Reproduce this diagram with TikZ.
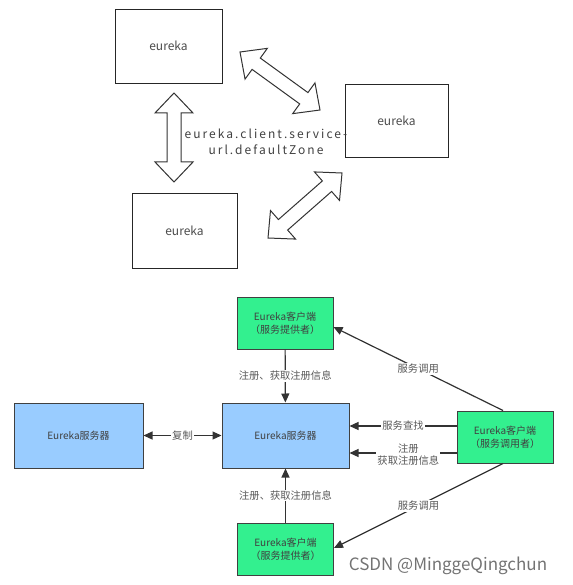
\documentclass[tikz,border=0pt]{standalone}
\usepackage{fontspec}
\setmainfont{Noto Sans CJK SC}
\usetikzlibrary{calc,arrows.meta}

\definecolor{serverblue}{HTML}{99CCFF}
\definecolor{clientgreen}{HTML}{33F08F}

\tikzset{
  eurekabox/.style={draw=black!85, line width=0.9pt, text=black!70,
    font=\fontsize{12}{14}\selectfont},
  serverbox/.style={draw=black!75, fill=serverblue, line width=1pt,
    minimum height=65pt, text=black!75, font=\fontsize{10}{12}\selectfont},
  clientbox/.style={draw=black!75, fill=clientgreen, line width=1pt,
    minimum width=96pt, minimum height=52pt, align=center, text=black!75,
    font=\fontsize{10}{12.5}\selectfont},
  blockline/.style={draw=black!80, line width=1pt, fill=white, line join=miter},
  link/.style={draw=black!80, line width=1.2pt, -{Triangle[length=9pt,width=8pt]}},
  tag/.style={fill=white, text=black!65, inner sep=1pt, align=center,
    font=\fontsize{10.3}{12}\selectfont},
}

% outlined double arrow between two coordinates
\newcommand\blockarrow[2]{%
  \coordinate (h1) at ($(#1)!20pt!(#2)$);
  \coordinate (h2) at ($(#2)!20pt!(#1)$);
  \draw[blockline] (#1) -- ($(h1)!19pt!90:(#2)$) -- ($(h1)!7pt!90:(#2)$)
    -- ($(h2)!7pt!-90:(#1)$) -- ($(h2)!19pt!-90:(#1)$) -- (#2)
    -- ($(h2)!19pt!90:(#1)$) -- ($(h2)!7pt!90:(#1)$)
    -- ($(h1)!7pt!-90:(#2)$) -- ($(h1)!19pt!-90:(#2)$) -- cycle;}

\begin{document}
\begin{tikzpicture}[x=1pt,y=-1pt]
  \useasboundingbox (0,0) rectangle (572,585);

  %%%%% EUREKA CLUSTER %%%%%
  \node[eurekabox, minimum width=107pt, minimum height=74pt] (euA) at (168.5,46) {eureka};
  \node[eurekabox, minimum width=103pt, minimum height=73pt] (euB) at (396.5,120.5) {eureka};
  \node[eurekabox, minimum width=105pt, minimum height=75pt] (euC) at (184.5,230.5) {eureka};

  \coordinate (ac1) at (174,93);  \coordinate (ac2) at (174,182);
  \coordinate (ab1) at (240,52);  \coordinate (ab2) at (320,110);
  \coordinate (cb1) at (268,238); \coordinate (cb2) at (342,173);

  \blockarrow{ac1}{ac2}
  \blockarrow{ab1}{ab2}
  \blockarrow{cb1}{cb2}

  \node[align=center, text=black!75, inner sep=0pt,
    font=\fontsize{12}{16}\selectfont\addfontfeature{LetterSpace=17}] (zone) at (266,142)
    {eureka.client.service-\\url.defaultZone};

  %%%%% SERVERS AND CLIENTS %%%%%
  \node[serverbox, minimum width=129pt] (srvL) at (78.5,435.5) {Eureka服务器};
  \node[serverbox, minimum width=127pt] (srvC) at (285.5,435.5) {Eureka服务器};

  \node[clientbox] (prvT) at (285,323) {Eureka客户端\\（服务提供者）};
  \node[clientbox] (prvB) at (285.5,549) {Eureka客户端\\（服务提供者）};
  \node[clientbox] (cons) at (505,437) {Eureka客户端\\（服务调用者）};

  \draw[link, {Triangle[length=9pt,width=8pt]}-{Triangle[length=9pt,width=8pt]}] (srvL) -- node[tag] {复制} (srvC);

  \draw[link] (prvT) -- node[tag] {注册、获取注册信息} (srvC);
  \draw[link] (prvB) -- node[tag] {注册、获取注册信息} (srvC);

  \coordinate (find) at ([yshift=11pt]cons.west);
  \coordinate (reg) at ([yshift=-16pt]cons.west);
  \draw[link] (find) -- node[tag] {服务查找} (find -| srvC.east);
  \draw[link] (reg) -- node[tag, pos=0.45, yshift=-2pt] {注册\\获取注册信息} (reg -| srvC.east);

  \draw[link] ([xshift=-2pt]cons.north) -- node[tag, pos=0.5] {服务调用} ([yshift=-4pt]prvT.east);
  \draw[link] ([xshift=-2pt]cons.south) -- node[tag, pos=0.5] {服务调用} ([yshift=1pt]prvB.east);

  \node[text=black!55, font=\fontsize{17}{20}\selectfont] (mark) at (448,566) {CSDN @MinggeQingchun};
\end{tikzpicture}
\end{document}
